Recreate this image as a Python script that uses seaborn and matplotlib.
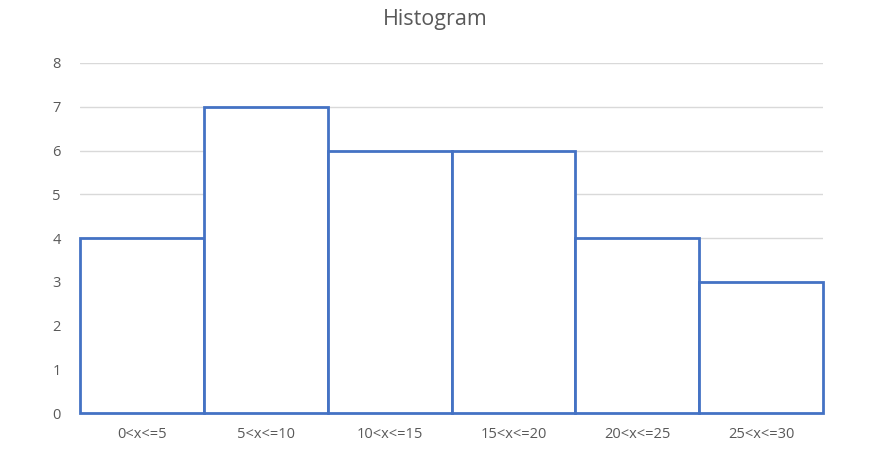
import matplotlib
matplotlib.use("Agg")
import matplotlib.pyplot as plt
import seaborn as sns
import pandas as pd

bins = ["0<x<=5", "5<x<=10", "10<x<=15", "15<x<=20", "20<x<=25", "25<x<=30"]
counts = [4, 7, 6, 6, 4, 3]

df = pd.DataFrame({"bin": bins, "count": counts})

sns.set_style("white")
plt.rcParams["font.family"] = ["Open Sans", "DejaVu Sans"]

fig = plt.figure(figsize=(8.7, 4.5), dpi=100)
ax = fig.add_axes([0.092, 0.082, 0.854, 0.778])

sns.barplot(data=df, x="bin", y="count", ax=ax, width=1.0,
            color="white", edgecolor="#4472C4", linewidth=2, zorder=3)
for p in ax.patches:
    p.set_clip_on(False)

ax.set_ylim(0, 8)
ax.set_xlim(-0.5, len(bins) - 0.5)
ax.set_yticks(range(0, 9))
ax.yaxis.grid(True, color="#D9D9D9", linewidth=1, zorder=0)
ax.set_axisbelow(True)
for s in ax.spines.values():
    s.set_visible(False)
ax.tick_params(axis="both", length=0, labelsize=10.5, colors="#595959")
ax.tick_params(axis="y", pad=14)
ax.tick_params(axis="x", pad=10)
ax.set_xlabel("")
ax.set_ylabel("")
fig.suptitle("Histogram", y=0.98, fontsize=15.5, color="#595959")

fig.savefig("out.png", dpi=100)
plt.close(fig)
